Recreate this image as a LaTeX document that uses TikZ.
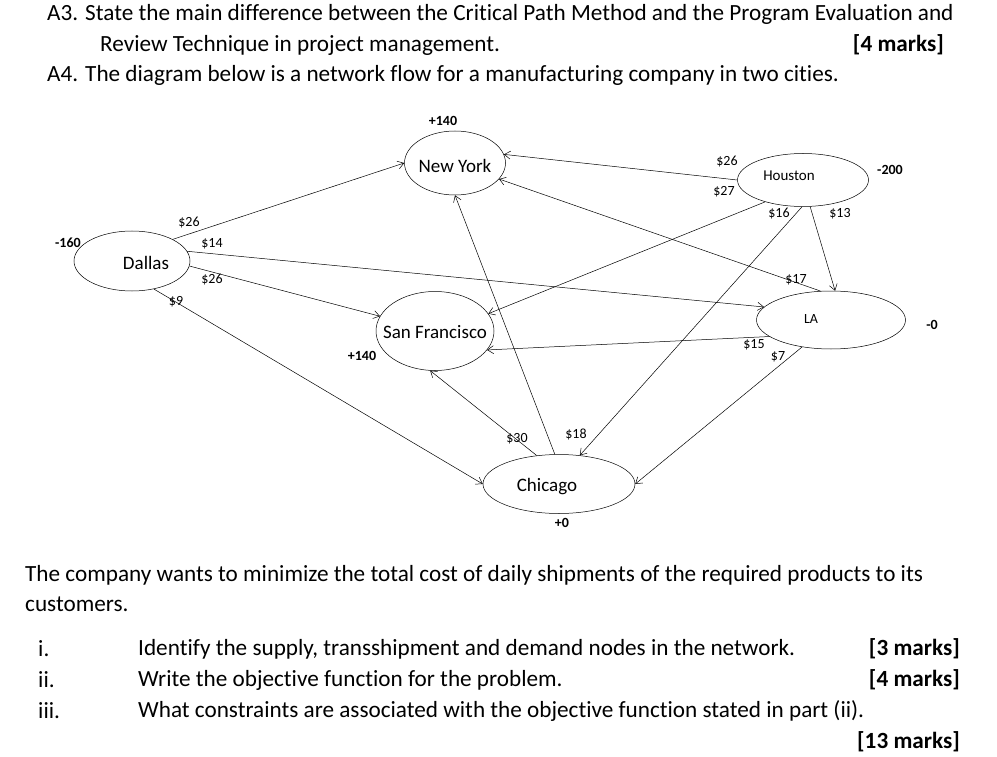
\documentclass[tikz,border=0pt]{standalone}
\usepackage{fontspec}
\setmainfont{Carlito}[Ligatures=NoCommon]
\usetikzlibrary{arrows.meta,shapes.geometric}
\newcommand{\ctext}[2]{\smash{\makebox[0pt]{\raisebox{#1}{#2}}}}
\begin{document}
\begin{tikzpicture}[x=1pt,y=-1pt,
 city/.style={draw,ellipse,inner sep=0pt,line width=0.5pt},
 edge/.style={-{Straight Barb[length=6pt,width=8pt]},line width=0.5pt},
 cost/.style={font=\fontsize{14}{16}\selectfont,inner sep=0pt},
 sup/.style={font=\fontsize{14}{16}\selectfont\bfseries,inner sep=0pt},
 txt/.style={font=\fontsize{23.2}{26}\selectfont,anchor=west,inner sep=0pt},
 btxt/.style={font=\fontsize{23.2}{26}\selectfont\bfseries,anchor=east,inner sep=0pt}]
\useasboundingbox (0,0) rectangle (997,757);
\node[txt] (t1) at (47,14) {A3. State the main difference between the Critical Path Method and the Program Evaluation and};
\node[txt] (t2) at (100,45) {Review Technique in project management.};
\node[btxt] (t2m) at (944,45) {[4 marks]};
\node[txt] (t3) at (47,75) {A4. The diagram below is a network flow for a manufacturing company in two cities.};
% nodes
\node[city,minimum width=116,minimum height=60,font=\fontsize{19}{20}\selectfont] (dal) at (132,261) {\ctext{-9pt}{\hspace{28pt}Dallas}};
\node[city,minimum width=101,minimum height=64,font=\fontsize{19}{20}\selectfont] (ny) at (455,163) {\ctext{-10pt}{New York}};
\node[city,minimum width=118,minimum height=79,font=\fontsize{19}{20}\selectfont] (sf) at (435,331) {\ctext{-7pt}{San Francisco}};
\node[city,minimum width=152,minimum height=59,font=\fontsize{19}{20}\selectfont] (chi) at (559,484) {\ctext{-7pt}{\hspace{-24pt}Chicago}};
\node[city,minimum width=131,minimum height=53,font=\fontsize{15}{16}\selectfont] (hou) at (803,180) {\ctext{-1pt}{\hspace{-28pt}Houston}};
\node[city,minimum width=149,minimum height=58,font=\fontsize{14}{15}\selectfont] (la) at (831,320) {\ctext{-3pt}{\hspace{-40pt}LA}};
% supplies
\node[sup] (sny) at (443,121) {+140};
\node[sup] (sdal) at (68,243) {-160};
\node[sup] (ssf) at (362,356) {+140};
\node[sup] (schi) at (562,523) {+0};
\node[sup] (shou) at (890,170) {-200};
\node[sup] (sla) at (932,325) {-0};
% edges
\draw[edge] (dal.28) -- (ny.west);
\draw[edge] (dal.10) -- (la.169);
\draw[edge] (dal.-5) -- (sf.165);
\draw[edge] (dal.-52) -- (chi.west);
\draw[edge] (hou.west) -- (ny.10);
\draw[edge] (hou.-150) -- (sf.18);
\draw[edge] (hou.-92) -- (chi.54);
\draw[edge] (hou.-75) -- (la.82);
\draw[edge] (la.110) -- (ny.-20);
\draw[edge] (la.-165) -- (sf.-20);
\draw[edge] (la.-137) -- (chi.east);
\draw[edge] (chi.128) -- (sf.-97);
\draw[edge] (chi.98) -- (ny.south);
% costs
\node[cost] (c1) at (189,223) {\$26};
\node[cost] (c2) at (212,244) {\$14};
\node[cost] (c3) at (212,280) {\$26};
\node[cost] (c4) at (176,302) {\$9};
\node[cost] (c5) at (727,162) {\$26};
\node[cost] (c6) at (724,192) {\$27};
\node[cost] (c7) at (779,214) {\$16};
\node[cost] (c8) at (840,214) {\$13};
\node[cost] (c9) at (796,280) {\$17};
\node[cost] (c10) at (754,345) {\$15};
\node[cost] (c11) at (778,357) {\$7};
\node[cost] (c12) at (517,439) {\$30};
\node[cost] (c13) at (576,434) {\$18};
% bottom text
\node[txt] (b1) at (25,575) {The company wants to minimize the total cost of daily shipments of the required products to its};
\node[txt] (b2) at (25,604) {customers.};
\node[txt] (i1) at (38,649) {i.};
\node[txt] (i2) at (38,680) {ii.};
\node[txt] (i3) at (38,711) {iii.};
\node[txt] (q1) at (138,649) {Identify the supply, transshipment and demand nodes in the network.};
\node[txt] (q2) at (138,680) {Write the objective function for the problem.};
\node[txt] (q3) at (138,711) {What constraints are associated with the objective function stated in part (ii).};
\node[btxt] (m1) at (960,649) {[3 marks]};
\node[btxt] (m2) at (960,680) {[4 marks]};
\node[btxt] (m3) at (960,742) {[13 marks]};
\end{tikzpicture}
\end{document}
